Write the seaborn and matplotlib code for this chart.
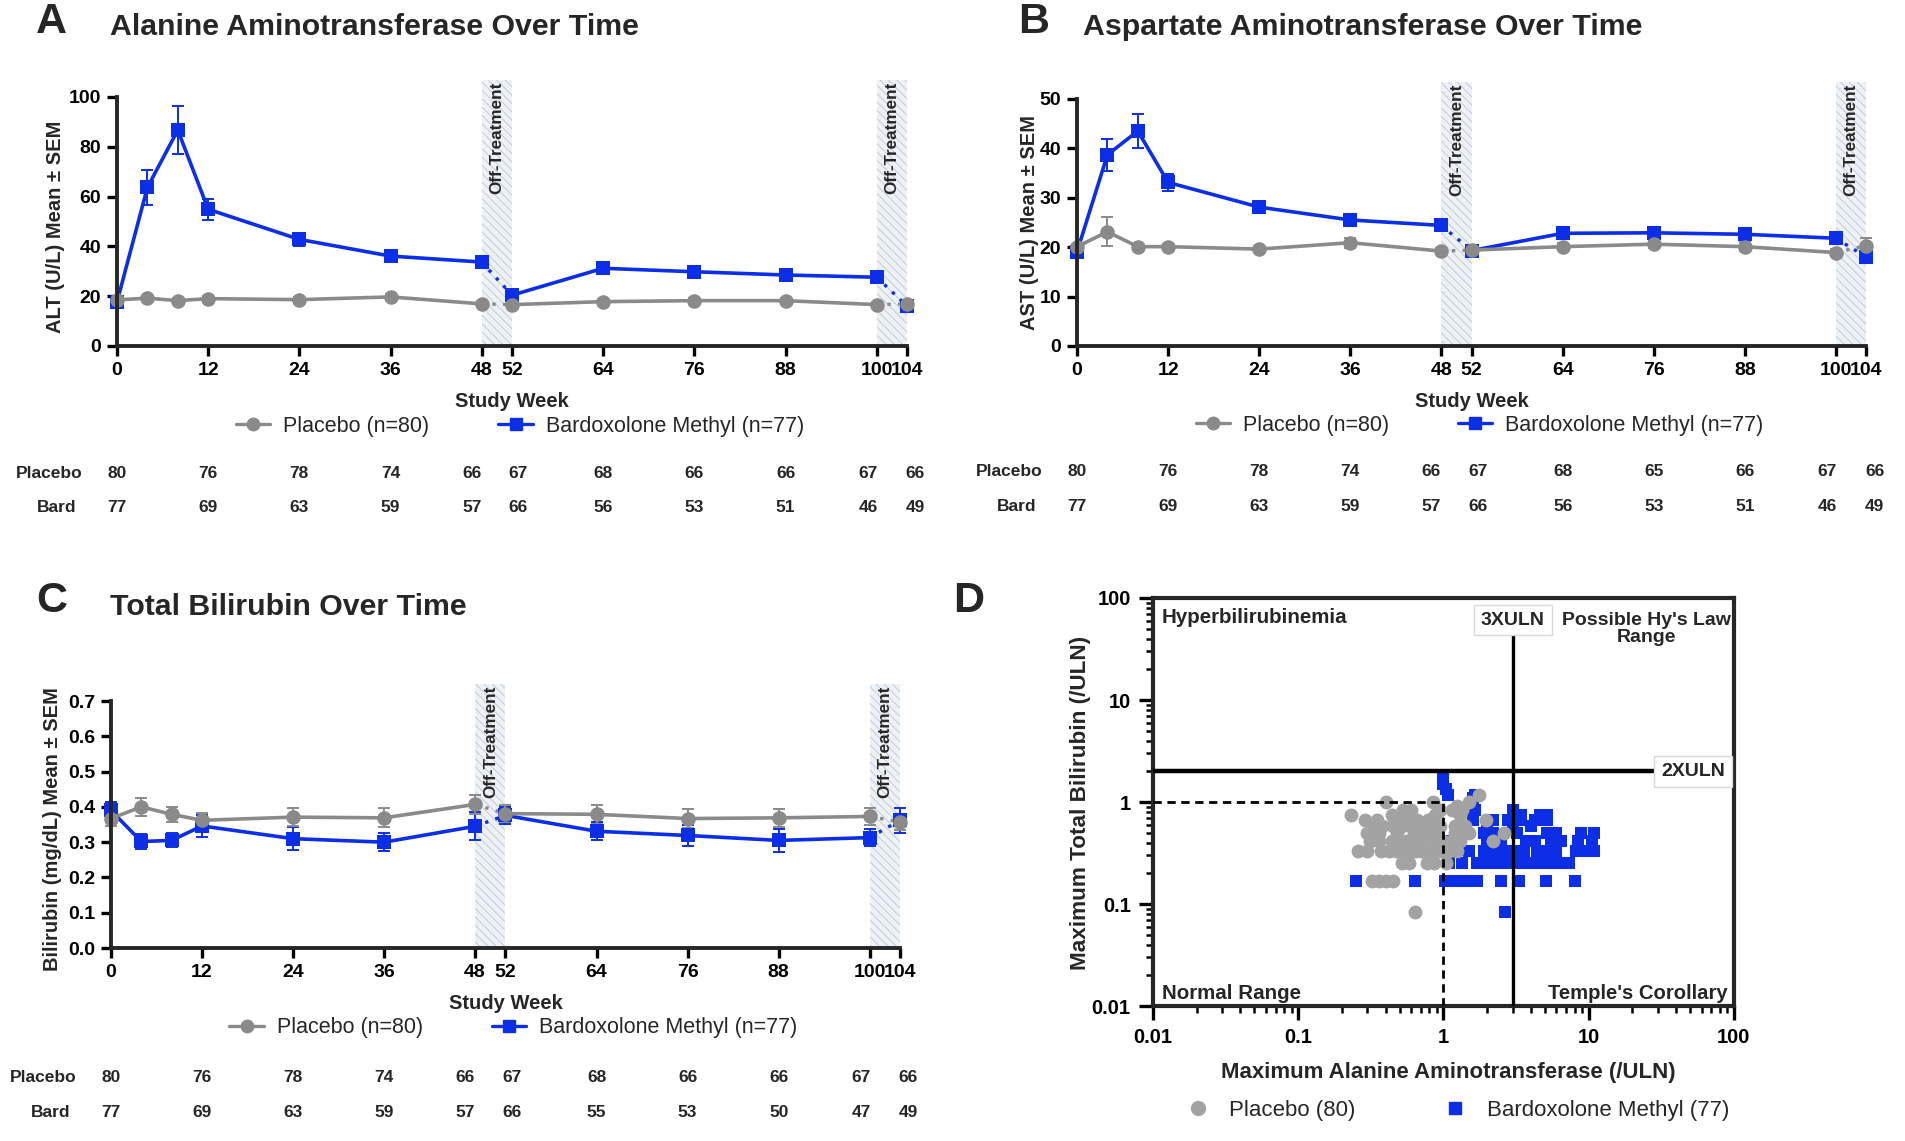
import numpy as np
import pandas as pd
import seaborn as sns
import matplotlib.pyplot as plt
from matplotlib.lines import Line2D
from matplotlib.transforms import blended_transform_factory
from matplotlib import ticker

sns.set_theme(style='ticks')
plt.rcParams['font.family'] = ['Liberation Sans Narrow', 'Liberation Sans', 'DejaVu Sans']
plt.rcParams['hatch.linewidth'] = 0.7
ARIAL = ['Liberation Sans', 'DejaVu Sans']

# ---- data ----
weeks = [0, 4, 8, 12, 24, 36, 48, 52, 64, 76, 88, 100, 104]

alt_pbo = [18.5, 19.2, 18.2, 19.0, 18.6, 19.7, 16.9, 16.6, 17.8, 18.2, 18.2, 16.6, 16.9]
alt_pbo_sem = [1.0, 1.0, 1.0, 1.0, 1.0, 1.0, 1.0, 1.0, 1.0, 1.0, 1.0, 1.0, 1.0]
alt_bard = [17.7, 63.7, 86.7, 54.9, 42.8, 36.1, 33.7, 20.4, 31.2, 29.8, 28.5, 27.6, 16.0]
alt_bard_sem = [1.2, 7.0, 9.5, 4.2, 2.5, 2.0, 1.8, 1.8, 2.0, 1.5, 1.5, 1.5, 1.5]

ast_pbo = [20.1, 23.1, 20.1, 20.1, 19.6, 20.9, 19.2, 19.4, 20.1, 20.6, 20.1, 18.9, 20.3]
ast_pbo_sem = [0.6, 2.9, 0.6, 0.6, 0.6, 1.0, 0.6, 0.6, 0.7, 0.8, 0.9, 0.7, 1.5]
ast_bard = [19.1, 38.7, 43.5, 33.1, 28.1, 25.5, 24.4, 19.3, 22.8, 22.9, 22.6, 21.8, 18.0]
ast_bard_sem = [0.7, 3.2, 3.5, 1.8, 1.0, 0.9, 0.8, 0.8, 0.9, 0.8, 0.8, 0.8, 0.8]

bili_pbo = [0.367, 0.400, 0.379, 0.362, 0.371, 0.369, 0.407, 0.381, 0.379, 0.367, 0.369, 0.373, 0.357]
bili_pbo_sem = [0.020, 0.025, 0.022, 0.022, 0.025, 0.027, 0.027, 0.025, 0.027, 0.027, 0.025, 0.025, 0.022]
bili_bard = [0.390, 0.302, 0.305, 0.346, 0.310, 0.300, 0.345, 0.376, 0.331, 0.319, 0.305, 0.313, 0.362]
bili_bard_sem = [0.025, 0.022, 0.020, 0.030, 0.032, 0.025, 0.040, 0.025, 0.025, 0.030, 0.032, 0.025, 0.035]

# patients at risk
n_weeks = [0, 12, 24, 36, 48, 52, 64, 76, 88, 100, 104]
alt_n_pbo = [80, 76, 78, 74, 66, 67, 68, 66, 66, 67, 66]
alt_n_bard = [77, 69, 63, 59, 57, 66, 56, 53, 51, 46, 49]
ast_n_pbo = [80, 76, 78, 74, 66, 67, 68, 65, 66, 67, 66]
ast_n_bard = [77, 69, 63, 59, 57, 66, 56, 53, 51, 46, 49]
bili_n_pbo = [80, 76, 78, 74, 66, 67, 68, 66, 66, 67, 66]
bili_n_bard = [77, 69, 63, 59, 57, 66, 55, 53, 50, 47, 49]

# panel D (eDISH): max ALT / ULN vs max bilirubin / ULN
pbo_alt = [0.64,
           0.32, 0.36, 0.40, 0.45,
           0.52, 0.58, 0.77, 0.86, 1.05,
           0.26, 0.30, 0.37, 0.42, 0.47, 0.52, 0.58, 0.64, 0.70, 0.78, 0.86, 0.95, 1.10, 1.25,
           0.31, 0.36, 0.44, 0.50, 0.56, 0.62, 0.69, 0.75, 0.90, 1.00, 1.15, 1.30, 2.20,
           0.30, 0.36, 0.48, 0.63, 0.70, 0.78, 0.88, 1.20, 1.35, 1.50, 2.60,
           0.32, 0.38, 0.45, 0.52, 0.60, 0.74, 0.85, 0.95, 1.20, 1.40,
           0.29, 0.35, 0.46, 0.66, 0.78, 1.95,
           0.23, 0.44, 0.50, 0.56, 0.88, 1.30,
           0.53, 0.60, 0.95, 1.15, 1.35,
           1.25,
           0.40, 0.85, 1.50,
           1.75]
pbo_bili = [0.083,
            0.167, 0.167, 0.167, 0.167,
            0.25, 0.25, 0.25, 0.25, 0.25,
            0.333, 0.333, 0.333, 0.333, 0.333, 0.333, 0.333, 0.333, 0.333, 0.333, 0.333, 0.333, 0.333, 0.333,
            0.417, 0.417, 0.417, 0.417, 0.417, 0.417, 0.417, 0.417, 0.417, 0.417, 0.417, 0.417, 0.417,
            0.5, 0.5, 0.5, 0.5, 0.5, 0.5, 0.5, 0.5, 0.5, 0.5, 0.5,
            0.583, 0.583, 0.583, 0.583, 0.583, 0.583, 0.583, 0.583, 0.583, 0.583,
            0.667, 0.667, 0.667, 0.667, 0.667, 0.667,
            0.75, 0.75, 0.75, 0.75, 0.75, 0.75,
            0.833, 0.833, 0.833, 0.833, 0.833,
            0.917,
            1.0, 1.0, 1.0,
            1.167]
bard_alt = [2.66,
            0.25, 0.64, 1.02, 1.15, 1.30, 1.50, 1.70, 2.50, 3.30, 5.10, 8.10,
            1.10, 1.35, 1.70, 2.00, 2.40, 2.80, 3.30, 3.90, 4.60, 5.40, 6.20, 7.30,
            1.20, 1.50, 1.90, 2.20, 2.60, 3.00, 3.60, 4.40, 4.80, 5.20, 6.00, 8.20, 9.50, 10.8,
            1.00, 2.00, 2.50, 3.70, 4.30, 5.50, 6.50, 8.50, 10.5,
            1.90, 2.20, 3.20, 5.20, 6.00, 8.80, 10.8,
            2.00, 3.00, 4.00,
            1.60, 2.20, 2.80, 3.30, 4.30, 5.20,
            1.60, 3.00, 3.40, 4.60, 5.20,
            1.65, 3.00,
            1.55,
            1.60,
            1.07, 1.65,
            1.05,
            1.00,
            1.00]
bard_bili = [0.083,
             0.167, 0.167, 0.167, 0.167, 0.167, 0.167, 0.167, 0.167, 0.167, 0.167, 0.167,
             0.25, 0.25, 0.25, 0.25, 0.25, 0.25, 0.25, 0.25, 0.25, 0.25, 0.25, 0.25,
             0.333, 0.333, 0.333, 0.333, 0.333, 0.333, 0.333, 0.333, 0.333, 0.333, 0.333, 0.333, 0.333, 0.333,
             0.417, 0.417, 0.417, 0.417, 0.417, 0.417, 0.417, 0.417, 0.417,
             0.5, 0.5, 0.5, 0.5, 0.5, 0.5, 0.5,
             0.583, 0.583, 0.583,
             0.667, 0.667, 0.667, 0.667, 0.667, 0.667,
             0.75, 0.75, 0.75, 0.75, 0.75,
             0.833, 0.833,
             0.917,
             1.083,
             1.167, 1.167,
             1.333,
             1.5,
             1.75]

PBO = 'Placebo (n=80)'
BARD = 'Bardoxolone Methyl (n=77)'
GREY = '#8a8a8a'
BLUE = '#0b2ee6'
palette = {PBO: GREY, BARD: BLUE}
off_treatment = [(48, 52), (100, 104)]
xticks = [0, 12, 24, 36, 48, 52, 64, 76, 88, 100, 104]
nudge = {48: -1.3, 52: 0.8, 100: -1.1, 104: 1.1}

fig = plt.figure(figsize=(19.06, 11.41), dpi=100)


def time_panel(ax, pbo, pbo_sem, bard, bard_sem, n_pbo, n_bard, ymax, ystep,
               ylabel, ylab_pos, yfmt, rows_y):
    df = pd.concat([
        pd.DataFrame({'week': weeks, 'value': bard, 'err': bard_sem, 'group': BARD}),
        pd.DataFrame({'week': weeks, 'value': pbo, 'err': pbo_sem, 'group': PBO}),
    ], ignore_index=True)
    df['seg'] = pd.cut(df['week'], [-1, 48, 100, 104], labels=False)
    tr = blended_transform_factory(ax.transData, ax.transAxes)

    # hatched off-treatment windows
    for lo, hi in off_treatment:
        ax.axvspan(lo, hi, ymin=0, ymax=1.07, facecolor='#eef2f6', edgecolor='#c3cdd8',
                   hatch='\\\\\\\\', lw=0, clip_on=False, zorder=0)
        ax.text((lo + hi) / 2, 1.062, 'Off-Treatment', rotation=90, ha='center', va='top',
                transform=tr, fontsize=12.3, fontweight='bold', family=ARIAL, zorder=5)

    for grp in [BARD, PBO]:
        d = df[df['group'] == grp]
        ax.errorbar(d['week'], d['value'], yerr=d['err'], fmt='none', ecolor=palette[grp],
                    elinewidth=1.4, capsize=4.5, capthick=1.4, clip_on=False, zorder=1.5)
        for lo, hi in off_treatment:
            seg = d[d['week'].isin([lo, hi])]
            ax.plot(seg['week'], seg['value'], ls=(0, (1, 2.2)), color=palette[grp], lw=2.4,
                    clip_on=False, zorder=1.8)

    sns.lineplot(data=df, x='week', y='value', hue='group', style='group', units='seg',
                 estimator=None, hue_order=[BARD, PBO], style_order=[BARD, PBO],
                 palette=palette, markers={PBO: 'o', BARD: 's'}, dashes=False,
                 markersize=10.5, markeredgewidth=0, linewidth=2.6, clip_on=False,
                 legend=False, ax=ax)

    ax.set_xlim(0, 104)
    ax.set_ylim(0, ymax)
    ax.set_xticks(xticks)
    ax.set_yticks(np.arange(0, ymax + ystep / 2, ystep))
    ax.yaxis.set_major_formatter(ticker.FormatStrFormatter(yfmt))
    sns.despine(ax=ax)
    for s in ['left', 'bottom']:
        ax.spines[s].set_linewidth(2.8)
    ax.tick_params(width=2.4, length=7.5, labelsize=14, pad=4, colors='black')
    for lab in ax.get_xticklabels() + ax.get_yticklabels():
        lab.set_fontweight('bold')

    ax.set_xlabel('Study Week', fontsize=14.5, fontweight='bold')
    ax.xaxis.set_label_coords(0.5, -0.225)
    ax.xaxis.label.set_verticalalignment('center')
    ax.set_ylabel(ylabel, fontsize=14.5, fontweight='bold', family=ARIAL)
    ax.yaxis.set_label_coords(*ylab_pos)
    ax.yaxis.label.set_verticalalignment('center')

    handles = [Line2D([], [], color=GREY, marker='o', ms=9, lw=2.4),
               Line2D([], [], color=BLUE, marker='s', ms=9, lw=2.4)]
    ax.legend(handles, [PBO, BARD], loc='center', bbox_to_anchor=(0.51, -0.322), ncol=2,
              frameon=False, fontsize=15.5, handlelength=1.6, columnspacing=3.2,
              handletextpad=0.6, borderaxespad=0)

    # numbers at risk
    ax.text(-0.044, rows_y[0], 'Placebo', transform=ax.transAxes, ha='right', va='center',
            fontsize=12.5, fontweight='bold')
    ax.text(-0.052, rows_y[1], 'Bard', transform=ax.transAxes, ha='right', va='center',
            fontsize=12.5, fontweight='bold')
    for w, a, b in zip(n_weeks, n_pbo, n_bard):
        x = w + nudge.get(w, 0)
        ax.text(x, rows_y[0], str(a), transform=tr, ha='center', va='center',
                fontsize=12.5, fontweight='bold')
        ax.text(x, rows_y[1], str(b), transform=tr, ha='center', va='center',
                fontsize=12.5, fontweight='bold')


axA = fig.add_axes([0.0614, 0.6968, 0.4145, 0.2182])
time_panel(axA, alt_pbo, alt_pbo_sem, alt_bard, alt_bard_sem, alt_n_pbo, alt_n_bard,
           100, 20, 'ALT (U/L) Mean ± SEM', (-0.078, 0.48), '%d', (-0.514, -0.647))
axB = fig.add_axes([0.5651, 0.6968, 0.4140, 0.2165])
time_panel(axB, ast_pbo, ast_pbo_sem, ast_bard, ast_bard_sem, ast_n_pbo, ast_n_bard,
           50, 10, 'AST (U/L) Mean ± SEM', (-0.06, 0.50), '%d', (-0.51, -0.648))
axC = fig.add_axes([0.0582, 0.1691, 0.4140, 0.2165])
time_panel(axC, bili_pbo, bili_pbo_sem, bili_bard, bili_bard_sem, bili_n_pbo, bili_n_bard,
           0.7, 0.1, 'Bilirubin (mg/dL) Mean ± SEM', (-0.074, 0.48), '%.1f', (-0.526, -0.664))

# ---- panel D ----
axD = fig.add_axes([0.6049, 0.1183, 0.3048, 0.3576])
sns.scatterplot(x=bard_alt, y=bard_bili, marker='s', color=BLUE, s=85, linewidth=0,
                ax=axD, zorder=2)
sns.scatterplot(x=pbo_alt, y=pbo_bili, marker='o', color='#a3a3a3', s=100, linewidth=0,
                ax=axD, zorder=2.2)
axD.set_xscale('log')
axD.set_yscale('log')
axD.set_xlim(0.01, 100)
axD.set_ylim(0.01, 100)
dec = [0.01, 0.1, 1, 10, 100]
axD.set_xticks(dec)
axD.set_yticks(dec)
axD.set_xticklabels(['0.01', '0.1', '1', '10', '100'])
axD.set_yticklabels(['0.01', '0.1', '1', '10', '100'])
axD.xaxis.set_minor_locator(ticker.LogLocator(base=10, subs=np.arange(2, 10)))
axD.yaxis.set_minor_locator(ticker.LogLocator(base=10, subs=np.arange(2, 10)))
axD.xaxis.set_minor_formatter(ticker.NullFormatter())
axD.yaxis.set_minor_formatter(ticker.NullFormatter())
for s in axD.spines.values():
    s.set_linewidth(3)
axD.tick_params(which='major', width=2.4, length=10, labelsize=14.5, pad=6, colors='black')
axD.tick_params(which='minor', width=1.8, length=5, colors='black')
for lab in axD.get_xticklabels() + axD.get_yticklabels():
    lab.set_fontweight('bold')

# reference lines
axD.plot([0.01, 1], [1, 1], color='black', lw=2, ls=(0, (3, 2)), zorder=3)
axD.plot([1, 1], [0.01, 1], color='black', lw=2, ls=(0, (3, 2)), zorder=3)
axD.plot([0.01, 34], [2, 2], color='black', lw=3.2, zorder=3)
axD.plot([3, 3], [0.01, 45], color='black', lw=2.4, zorder=3)
box = dict(boxstyle='square,pad=0.35', facecolor='white', edgecolor='#d8d8d8', lw=1)
axD.text(3, 0.946, '3XULN', transform=blended_transform_factory(axD.transData, axD.transAxes),
         ha='center', va='center', fontsize=14, fontweight='bold', bbox=box, zorder=4)
axD.text(0.985, 2, '2XULN', transform=blended_transform_factory(axD.transAxes, axD.transData),
         ha='right', va='center', fontsize=14, fontweight='bold', bbox=box, zorder=4)
kw = dict(transform=axD.transAxes, fontweight='bold', va='center')
axD.text(0.015, 0.951, 'Hyperbilirubinemia', ha='left', fontsize=14.8, **kw)
axD.text(0.85, 0.924, "Possible Hy's Law\nRange", ha='center', linespacing=1.0,
         fontsize=14, **kw)
axD.text(0.015, 0.031, 'Normal Range', ha='left', fontsize=14.8, **kw)
axD.text(0.99, 0.031, "Temple's Corollary", ha='right', fontsize=14.6, **kw)

axD.set_xlabel('Maximum Alanine Aminotransferase (/ULN)', fontsize=16, fontweight='bold')
axD.xaxis.set_label_coords(0.508, -0.162)
axD.xaxis.label.set_verticalalignment('center')
axD.set_ylabel('Maximum Total Bilirubin (/ULN)', fontsize=16.2, fontweight='bold', family=ARIAL)
axD.yaxis.set_label_coords(-0.124, 0.498)
axD.yaxis.label.set_verticalalignment('center')
hD = [Line2D([], [], color='#a3a3a3', marker='o', ls='', ms=10),
      Line2D([], [], color=BLUE, marker='s', ls='', ms=9)]
axD.legend(hD, ['Placebo (80)', 'Bardoxolone Methyl (77)'], loc='center',
           bbox_to_anchor=(0.525, -0.255), ncol=2, frameon=False, fontsize=16,
           handlelength=1.0, columnspacing=4, handletextpad=0.9, borderaxespad=0)

# ---- panel letters and titles ----
for letter, lx, ly in [('A', 51, 22), ('B', 1034, 22), ('C', 52, 601), ('D', 969, 601)]:
    fig.text(lx / 1906, 1 - ly / 1141, letter, ha='center', va='center', fontsize=31,
             fontweight='bold', family=ARIAL)
for title, tx, ty in [('Alanine Aminotransferase Over Time', 110, 27),
                      ('Aspartate Aminotransferase Over Time', 1083, 27),
                      ('Total Bilirubin Over Time', 110, 607)]:
    fig.text(tx / 1906, 1 - ty / 1141, title, ha='left', va='center', fontsize=21.8,
             fontweight='bold')

fig.savefig('out.png', dpi=100)
